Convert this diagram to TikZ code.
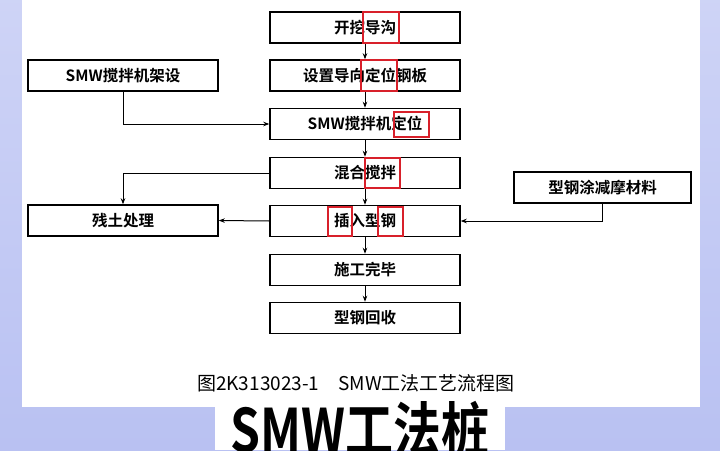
\documentclass[tikz,border=0pt]{standalone}
\usepackage{fontspec}
\setmainfont{Liberation Serif}
\newfontfamily\cjk{Noto Sans CJK SC}
\newfontfamily\cjkb{Noto Sans CJK SC Bold}
\usetikzlibrary{arrows.meta}
\definecolor{bgc}{HTML}{B9C1F2}
\definecolor{hl}{HTML}{D8202A}
\begin{document}
\begin{tikzpicture}[x=1pt,y=-1pt,
  box/.style={draw,line width=1.5pt,inner sep=0pt,font=\cjkb\fontsize{15.5}{15.5}\selectfont},
  conn/.style={line width=1pt,-{Stealth[length=6pt,width=4.5pt]}},
  red/.style={draw=hl,line width=1.6pt}]
\shade[top color=bgc!70!white,bottom color=bgc] (0,0) rectangle (720,450);
\useasboundingbox (0,0) rectangle (720,450);
\fill[white] (22,0) rectangle (700,407);
\fill[white] (215,407) rectangle (505,450);
\node[box,minimum width=190pt,minimum height=31pt] (a) at (365,27.5) {开挖导沟};
\node[box,minimum width=190pt,minimum height=31pt] (b) at (365,75.5) {设置导向定位钢板};
\node[box,minimum width=190pt,minimum height=31pt] (c) at (365,124) {SMW搅拌机定位};
\node[box,minimum width=190pt,minimum height=31pt] (d) at (365,173) {混合搅拌};
\node[box,minimum width=190pt,minimum height=31pt] (e) at (365,221) {插入型钢};
\node[box,minimum width=190pt,minimum height=31pt] (f) at (365,270) {施工完毕};
\node[box,minimum width=190pt,minimum height=31pt] (g) at (365,318) {型钢回收};
\node[box,minimum width=190pt,minimum height=31pt] (s) at (123,75.5) {SMW搅拌机架设};
\node[box,minimum width=190pt,minimum height=31pt] (r) at (123,220.5) {残土处理};
\node[box,minimum width=177pt,minimum height=31pt] (t) at (602.5,187.5) {型钢涂减摩材料};
\foreach \u/\v in {a/b,b/c,c/d,d/e,e/f,f/g} \draw[conn] (\u) -- (\v);
\draw[conn] (s.south) |- (c.west);
\draw[conn] (d.west) -| (r.north);
\draw[conn] (e.west) -- (r.east);
\draw[conn] (t.south) |- (e.east);
\draw[red] (363,12) rectangle (399,43);
\draw[red] (361,60) rectangle (397,91);
\draw[red] (394,112) rectangle (429,137);
\draw[red] (365,158) rectangle (400,188);
\draw[red] (328,207) rectangle (352,236);
\draw[red] (378,207) rectangle (403,236);
\node[font=\cjk\fontsize{19}{19}\selectfont,text=black] (cap) at (356,383) {图2K313023-1\quad SMW工法工艺流程图};
\node[font=\cjkb\fontsize{60}{60}\selectfont,anchor=north,xscale=0.8] (ttl) at (360,398) {SMW工法桩};
\end{tikzpicture}
\end{document}
